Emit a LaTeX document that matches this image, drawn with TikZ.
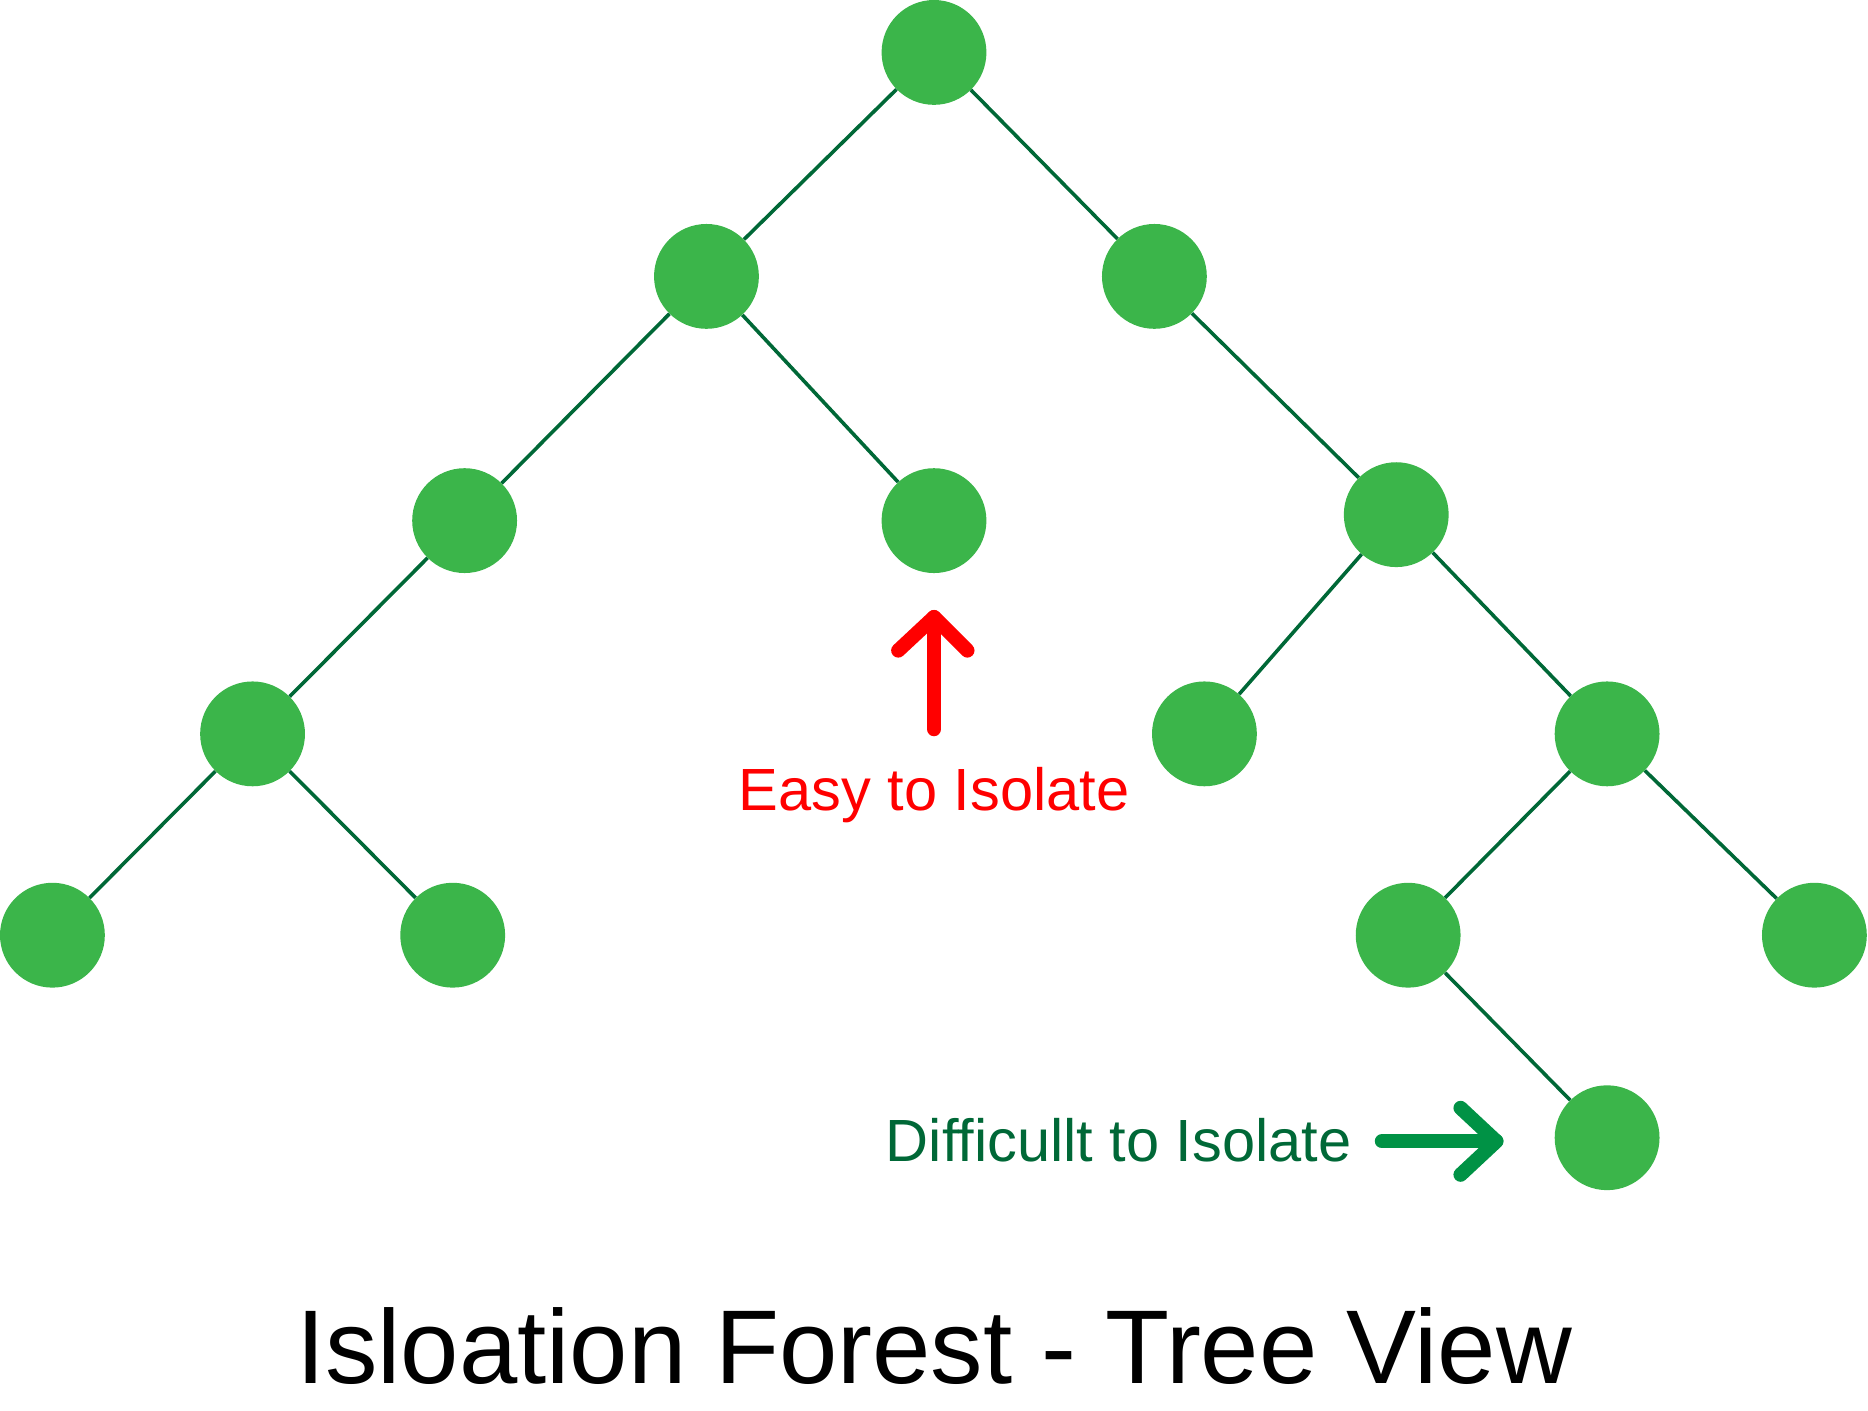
\documentclass[tikz,border=0pt]{standalone}
\usepackage{fontspec}
\setmainfont{Liberation Sans}
\usetikzlibrary{arrows.meta}
\definecolor{nodegreen}{HTML}{3BB54A}
\definecolor{edgegreen}{HTML}{006837}
\definecolor{arrowgreen}{HTML}{009245}
\begin{document}
\begin{tikzpicture}[x=1pt,y=-1pt,
  tn/.style={circle,fill=nodegreen,minimum size=88pt,inner sep=0pt},
  edge/.style={draw=edgegreen,line width=3pt},
  pointer/.style={line width=12pt,line cap=round,line join=round}]
\useasboundingbox (0,0) rectangle (1568,1184);
\node[tn] (r) at (784,44) {};
\node[tn] (a) at (593,232) {};
\node[tn] (b) at (969,232) {};
\node[tn] (aa) at (390,437) {};
\node[tn] (ab) at (784,437) {};
\node[tn] (bb) at (1172,432) {};
\node[tn] (aaa) at (212,616) {};
\node[tn] (bba) at (1011,616) {};
\node[tn] (bbb) at (1349,616) {};
\node[tn] (aaaa) at (44,785) {};
\node[tn] (aaab) at (380,785) {};
\node[tn] (bbba) at (1182,785) {};
\node[tn] (bbbb) at (1523,785) {};
\node[tn] (bbbaa) at (1349,955) {};
\begin{scope}[on background layer/.style={}]
\foreach \p/\c in {r/a,r/b,a/aa,a/ab,b/bb,aa/aaa,bb/bba,bb/bbb,aaa/aaaa,aaa/aaab,bbb/bbba,bbb/bbbb,bbba/bbbaa}
  \draw[edge] (\p) -- (\c);
\end{scope}
\coordinate (e1) at (784,612);
\coordinate (e2) at (784,518);
\draw[pointer,red] (e1) -- (e2);
\draw[pointer,red] (754,546) -- (e2) -- (812,546);
\node[text=red,font=\fontsize{50}{60}\selectfont] (easy) at (784,667) {Easy to Isolate};
\coordinate (d1) at (1160,958);
\coordinate (d2) at (1256,958);
\draw[pointer,arrowgreen] (d1) -- (d2);
\draw[pointer,arrowgreen] (1226,930) -- (d2) -- (1226,986);
\node[text=edgegreen,font=\fontsize{50}{60}\selectfont,anchor=east] (diff) at (1138,957) {Difficullt to Isolate};
\node[font=\fontsize{88}{100}\selectfont] (title) at (784,1130) {Isloation Forest - Tree View};
\end{tikzpicture}
\end{document}
